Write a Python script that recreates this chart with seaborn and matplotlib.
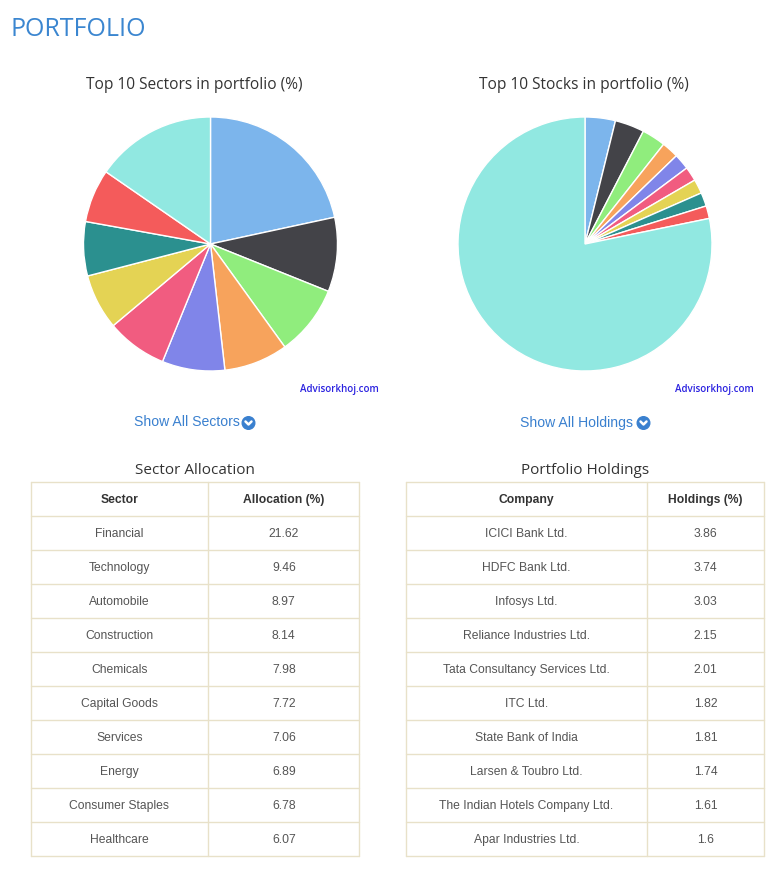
import matplotlib
matplotlib.use("Agg")
import matplotlib.pyplot as plt
import seaborn as sns
from matplotlib.patches import Circle
from matplotlib.lines import Line2D

# ---------------- data ----------------
sectors = ["Financial", "Technology", "Automobile", "Construction", "Chemicals",
           "Capital Goods", "Services", "Energy", "Consumer Staples", "Healthcare"]
sector_alloc = [21.62, 9.46, 8.97, 8.14, 7.98, 7.72, 7.06, 6.89, 6.78, 6.07]

companies = ["ICICI Bank Ltd.", "HDFC Bank Ltd.", "Infosys Ltd.", "Reliance Industries Ltd.",
             "Tata Consultancy Services Ltd.", "ITC Ltd.", "State Bank of India",
             "Larsen & Toubro Ltd.", "The Indian Hotels Company Ltd.", "Apar Industries Ltd."]
holdings = [3.86, 3.74, 3.03, 2.15, 2.01, 1.82, 1.81, 1.74, 1.61, 1.6]

# pie slices: top 9 + Others
sector_pie_labels = ["Financial", "Technology", "Automobile", "Construction", "Chemicals",
                     "Capital Goods", "Services", "Energy", "Consumer Staples", "Others"]
sector_pie_values = [21.62, 9.46, 8.97, 8.14, 7.98, 7.72, 7.06, 6.89, 6.78, 15.38]
stock_pie_labels = ["ICICI Bank Ltd.", "HDFC Bank Ltd.", "Infosys Ltd.", "Reliance Industries Ltd.",
                    "Tata Consultancy Services Ltd.", "ITC Ltd.", "State Bank of India",
                    "Larsen & Toubro Ltd.", "The Indian Hotels Company Ltd.", "Others"]
stock_pie_values = [3.86, 3.74, 3.03, 2.15, 2.01, 1.82, 1.81, 1.74, 1.61, 78.23]

# ---------------- style ----------------
sns.set_theme(style="white")
plt.rcParams['font.family'] = ['Liberation Sans', 'DejaVu Sans']
palette = sns.color_palette(["#7cb5ec", "#434348", "#90ed7d", "#f7a35c", "#8085e9",
                             "#f15c80", "#e4d354", "#2b908f", "#f45b5b", "#91e8e1"])

W, H = 779, 873
fig = plt.figure(figsize=(W / 100, H / 100), dpi=100)
fig.patch.set_facecolor("white")

ov = fig.add_axes([0, 0, 1, 1])
ov.set_xlim(0, W)
ov.set_ylim(H, 0)
ov.axis("off")
ov.patch.set_alpha(0)

BLUE = "#3a80cf"

ov.text(11, 36, "PORTFOLIO", fontsize=18, color="#3b86d0", family="Open Sans",
        ha="left", va="baseline")


def pie_axes(cx, cy, r, values):
    ax = fig.add_axes([(cx - r) / W, 1 - (cy + r) / H, 2 * r / W, 2 * r / H])
    ax.pie(values, colors=palette, startangle=90, counterclock=False, radius=1,
           wedgeprops=dict(edgecolor="white", linewidth=1.0))
    ax.set_xlim(-1.0, 1.0)
    ax.set_ylim(-1.0, 1.0)
    ax.set_aspect("equal")
    ax.axis("off")
    return ax


pie_axes(210.5, 244, 127, sector_pie_values)
pie_axes(585, 244, 127, stock_pie_values)

# chart titles
ov.text(194, 89, "Top 10 Sectors in portfolio (%)", fontsize=11.2, color="#333333",
        family="Open Sans", ha="center", va="baseline")
ov.text(584, 89, "Top 10 Stocks in portfolio (%)", fontsize=11.2, color="#333333",
        family="Open Sans", ha="center", va="baseline")

# watermark
for x in (339, 714):
    ov.text(x, 392, "Advisorkhoj.com", fontsize=7, color="#2b22e0", family="Open Sans",
            fontweight="semibold", ha="center", va="baseline")


def show_link(x0, y, label, icon_x):
    ov.text(x0, y + 4.5, label, fontsize=10.1, color=BLUE, ha="left", va="baseline")
    ov.add_patch(Circle((icon_x, y + 1), 6.3, color=BLUE, zorder=3))
    ov.add_line(Line2D([icon_x - 3, icon_x, icon_x + 3], [y - 0.5, y + 2.5, y - 0.5],
                       color="white", lw=1.8, zorder=4, solid_capstyle="round"))


show_link(134, 422, "Show All Sectors", 248.5)
show_link(520, 422, "Show All Holdings", 643.5)

# section titles
ov.text(194.5, 474, "Sector Allocation", fontsize=11.0, color="#333333",
        family="Open Sans", ha="center", va="baseline")
ov.text(584.7, 474, "Portfolio Holdings", fontsize=11.0, color="#333333",
        family="Open Sans", ha="center", va="baseline")

BORDER = "#e8e1c9"


def draw_table(x0, xm, x1, header, col1, col2):
    top, hb, rh = 482, 516, 34
    bottom = hb + rh * len(col1)
    lines = [top, hb] + [hb + rh * (i + 1) for i in range(len(col1))]
    for y in lines:
        ov.add_line(Line2D([x0, x1], [y, y], color=BORDER, lw=1.0))
    for x in (x0, xm, x1):
        ov.add_line(Line2D([x, x], [top, bottom], color=BORDER, lw=1.0))
    c1, c2 = (x0 + xm) / 2, (xm + x1) / 2
    hy = (top + hb) / 2 + 4.2
    ov.text(c1, hy, header[0], fontsize=8.7, fontweight="bold",
            color="#333333", ha="center", va="baseline")
    ov.text(c2, hy, header[1], fontsize=8.7, fontweight="bold",
            color="#333333", ha="center", va="baseline")
    for i, (a, b) in enumerate(zip(col1, col2)):
        yb = hb + rh * i + rh / 2 + 4.3
        ov.text(c1, yb, a, fontsize=8.7, color="#555555", ha="center", va="baseline")
        ov.text(c2, yb, f"{b:g}", fontsize=8.7, color="#555555", ha="center", va="baseline")


draw_table(30.7, 208.3, 359.3, ("Sector", "Allocation (%)"), sectors, sector_alloc)
draw_table(405.7, 647.3, 764, ("Company", "Holdings (%)"), companies, holdings)

fig.savefig("out.png", dpi=100, facecolor="white")
